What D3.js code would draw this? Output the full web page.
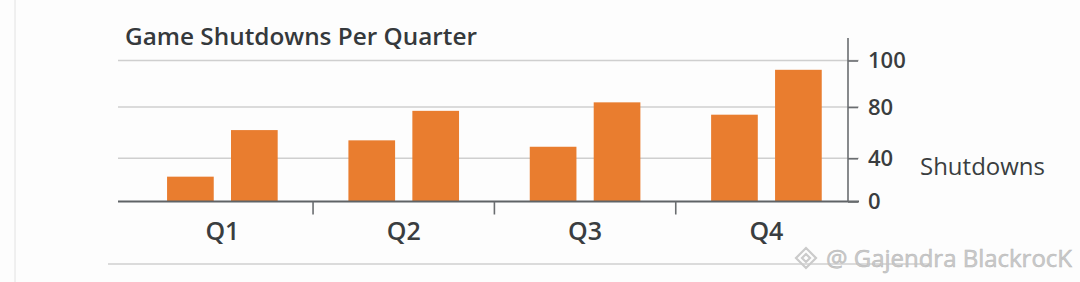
<!DOCTYPE html>
<html>
<head>
<meta charset="utf-8">
<script src="https://cdn.jsdelivr.net/npm/d3@7"></script>
<style>
  html, body { margin: 0; padding: 0; background: #fdfdfd; }
  svg { display: block; }
  text { font-family: "Open Sans", "Noto Sans", sans-serif; }
</style>
</head>
<body>
<svg id="chart" width="1080" height="282"></svg>
<script>
// ---- data ----
const quarters = ["Q1", "Q2", "Q3", "Q4"];
const seriesA = [23, 54, 49, 74];
const seriesB = [62, 77, 82, 96];
const yTicks = [0, 40, 80, 100];
const title = "Game Shutdowns Per Quarter";
const yTitle = "Shutdowns";
const watermark = "@ Gajendra BlackrocK";

// ---- layout ----
const svg = d3.select("#chart");
const W = 1080, H = 282;
const gridLeft = 118, gridRight = 859, axisX = 848;
const baseY = 201.5;

svg.append("rect").attr("width", W).attr("height", H).attr("fill", "#fdfdfd");
// faint left border
svg.append("line").attr("x1", 15).attr("x2", 15).attr("y1", 0).attr("y2", H)
  .attr("stroke", "#e2e2e2").attr("stroke-width", 1);

// piecewise y scale matching the drawn gridlines
const y = d3.scaleLinear().domain(yTicks).range([baseY, 158.3, 107, 60.5]);

const x = d3.scaleBand().domain(quarters).range([131.7, 857.1])
  .paddingInner(0.39).paddingOuter(0.195);
const x1 = d3.scaleBand().domain([0, 1]).range([0, x.bandwidth()])
  .paddingInner(0.27).paddingOuter(0);

// gridlines
svg.append("g").selectAll("line").data(yTicks.filter(d => d > 0)).join("line")
  .attr("x1", gridLeft).attr("x2", gridRight)
  .attr("y1", d => y(d)).attr("y2", d => y(d))
  .attr("stroke", "#cfcfcf").attr("stroke-width", 1.6);

// bars
const rows = quarters.map((q, i) => ({ q, vals: [seriesA[i], seriesB[i]] }));
svg.append("g").selectAll("g").data(rows).join("g")
  .attr("transform", d => `translate(${x(d.q)},0)`)
  .selectAll("rect").data(d => d.vals.map((v, k) => ({ k, v }))).join("rect")
  .attr("x", d => x1(d.k)).attr("width", x1.bandwidth())
  .attr("y", d => y(d.v)).attr("height", d => baseY - y(d.v))
  .attr("fill", "#E97D2F");

// baseline
svg.append("line").attr("x1", gridLeft).attr("x2", gridRight)
  .attr("y1", baseY).attr("y2", baseY)
  .attr("stroke", "#5f6366").attr("stroke-width", 2);

// right axis
const yAxis = d3.axisRight(y).tickValues(yTicks).tickSize(10).tickPadding(10);
const ga = svg.append("g").attr("transform", `translate(${axisX},0)`).call(yAxis);
ga.select(".domain").remove();
ga.append("line").attr("x1", 0).attr("x2", 0).attr("y1", 38).attr("y2", baseY)
  .attr("stroke", "#6a6d70").attr("stroke-width", 1.6);
ga.selectAll(".tick line").attr("stroke", "#6a6d70").attr("stroke-width", 1.6);
ga.selectAll(".tick text").attr("fill", "#3a3d40")
  .style("font-size", "22px").style("font-weight", 600).attr("dy", "0.34em");

// x axis
const step = x.step();
const sepTicks = quarters.slice(1).map(q => x(q) - step * x.paddingInner() / 2);
svg.append("g").selectAll("line").data(sepTicks).join("line")
  .attr("x1", d => d).attr("x2", d => d).attr("y1", baseY).attr("y2", baseY + 13)
  .attr("stroke", "#6a6d70").attr("stroke-width", 1.6);
svg.append("g").selectAll("text").data(quarters).join("text")
  .attr("x", d => x(d) + x.bandwidth() / 2).attr("y", 240)
  .attr("text-anchor", "middle").attr("fill", "#3a3d40")
  .style("font-size", "25px").style("font-weight", 600).text(d => d);

// titles
svg.append("text").attr("x", 125).attr("y", 45).attr("fill", "#35393c")
  .style("font-size", "23px").style("font-weight", 600)
  .attr("textLength", 352).attr("lengthAdjust", "spacingAndGlyphs").text(title);
svg.append("text").attr("x", 920).attr("y", 175).attr("fill", "#3a3d40")
  .style("font-size", "23px").style("font-weight", 500)
  .attr("textLength", 125).attr("lengthAdjust", "spacingAndGlyphs").text(yTitle);

// bottom separator
svg.append("line").attr("x1", 108).attr("x2", 930).attr("y1", 264).attr("y2", 264)
  .attr("stroke", "#cfcfcf").attr("stroke-width", 1.4);

// watermark
const wm = svg.append("g").attr("transform", "translate(806,258)");
wm.append("path").attr("d", "M0,-10 L10,0 L0,10 L-10,0 Z M0,-4 L4,0 L0,4 L-4,0 Z")
  .attr("fill", "none").attr("stroke", "#cbcbcb").attr("stroke-width", 2.2);
svg.append("text").attr("x", 826).attr("y", 267).attr("fill", "#cacaca")
  .attr("stroke", "#b8b8b8").attr("stroke-width", 0.5)
  .style("font-size", "24px")
  .attr("textLength", 246).attr("lengthAdjust", "spacingAndGlyphs").text(watermark);
</script>
</body>
</html>
